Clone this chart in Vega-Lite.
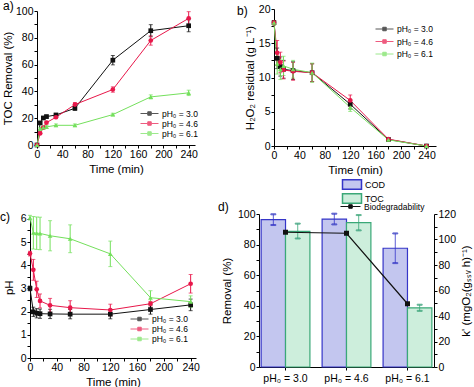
{
  "$schema": "https://vega.github.io/schema/vega-lite/v6.json",
  "padding": 0,
  "autosize": {"type": "pad"},
  "columns": 2,
  "spacing": {"row": 66, "column": 63},
  "bounds": "flush",
  "align": "each",
  "resolve": {
    "scale": {"color": "independent", "fill": "independent", "stroke": "independent", "shape": "independent"},
    "legend": {"color": "independent", "fill": "independent", "stroke": "independent", "shape": "independent"}
  },
  "datasets": {
    "toc": [
      {"t": 0, "ph": "pH₀ = 3.0", "v": 0, "e": 0},
      {"t": 5, "ph": "pH₀ = 3.0", "v": 16.5, "e": 1},
      {"t": 10, "ph": "pH₀ = 3.0", "v": 20.2, "e": 1},
      {"t": 15, "ph": "pH₀ = 3.0", "v": 21.2, "e": 1},
      {"t": 30, "ph": "pH₀ = 3.0", "v": 22.4, "e": 1.2},
      {"t": 60, "ph": "pH₀ = 3.0", "v": 27.4, "e": 1.5},
      {"t": 120, "ph": "pH₀ = 3.0", "v": 63.3, "e": 3.5},
      {"t": 180, "ph": "pH₀ = 3.0", "v": 85.3, "e": 4.5},
      {"t": 240, "ph": "pH₀ = 3.0", "v": 89, "e": 4.5},
      {"t": 0, "ph": "pH₀ = 4.6", "v": 0, "e": 0},
      {"t": 5, "ph": "pH₀ = 4.6", "v": 8.7, "e": 1},
      {"t": 10, "ph": "pH₀ = 4.6", "v": 13, "e": 1},
      {"t": 15, "ph": "pH₀ = 4.6", "v": 16.7, "e": 1},
      {"t": 30, "ph": "pH₀ = 4.6", "v": 20.7, "e": 1},
      {"t": 60, "ph": "pH₀ = 4.6", "v": 30.2, "e": 1.5},
      {"t": 120, "ph": "pH₀ = 4.6", "v": 41.4, "e": 2},
      {"t": 180, "ph": "pH₀ = 4.6", "v": 78, "e": 3.5},
      {"t": 240, "ph": "pH₀ = 4.6", "v": 94.5, "e": 5},
      {"t": 0, "ph": "pH₀ = 6.1", "v": 0, "e": 0},
      {"t": 5, "ph": "pH₀ = 6.1", "v": 12.2, "e": 1},
      {"t": 10, "ph": "pH₀ = 6.1", "v": 13, "e": 1},
      {"t": 15, "ph": "pH₀ = 6.1", "v": 13.5, "e": 1},
      {"t": 30, "ph": "pH₀ = 6.1", "v": 14.7, "e": 1},
      {"t": 60, "ph": "pH₀ = 6.1", "v": 14.7, "e": 1},
      {"t": 120, "ph": "pH₀ = 6.1", "v": 22.7, "e": 1},
      {"t": 180, "ph": "pH₀ = 6.1", "v": 35.9, "e": 1.5},
      {"t": 240, "ph": "pH₀ = 6.1", "v": 38.9, "e": 2}
    ],
    "h2o2": [
      {"t": 0, "ph": "pH₀ = 3.0", "v": 18, "e": 0.3},
      {"t": 5, "ph": "pH₀ = 3.0", "v": 12.8, "e": 1.5},
      {"t": 10, "ph": "pH₀ = 3.0", "v": 11.6, "e": 1.4},
      {"t": 15, "ph": "pH₀ = 3.0", "v": 11.2, "e": 1.3},
      {"t": 30, "ph": "pH₀ = 3.0", "v": 11.0, "e": 1.3},
      {"t": 60, "ph": "pH₀ = 3.0", "v": 10.7, "e": 1.3},
      {"t": 120, "ph": "pH₀ = 3.0", "v": 6.1, "e": 0.7},
      {"t": 180, "ph": "pH₀ = 3.0", "v": 0.95, "e": 0.2},
      {"t": 240, "ph": "pH₀ = 3.0", "v": 0, "e": 0.1},
      {"t": 0, "ph": "pH₀ = 4.6", "v": 18, "e": 0.3},
      {"t": 5, "ph": "pH₀ = 4.6", "v": 13.6, "e": 1.8},
      {"t": 10, "ph": "pH₀ = 4.6", "v": 12.2, "e": 1.5},
      {"t": 15, "ph": "pH₀ = 4.6", "v": 11.1, "e": 1.3},
      {"t": 30, "ph": "pH₀ = 4.6", "v": 10.9, "e": 1.3},
      {"t": 60, "ph": "pH₀ = 4.6", "v": 10.7, "e": 1.3},
      {"t": 120, "ph": "pH₀ = 4.6", "v": 6.65, "e": 0.8},
      {"t": 180, "ph": "pH₀ = 4.6", "v": 1.0, "e": 0.2},
      {"t": 240, "ph": "pH₀ = 4.6", "v": 0, "e": 0.1},
      {"t": 0, "ph": "pH₀ = 6.1", "v": 18, "e": 0.3},
      {"t": 5, "ph": "pH₀ = 6.1", "v": 12.0, "e": 1.5},
      {"t": 10, "ph": "pH₀ = 6.1", "v": 11.2, "e": 1.5},
      {"t": 15, "ph": "pH₀ = 6.1", "v": 11.7, "e": 1.4},
      {"t": 30, "ph": "pH₀ = 6.1", "v": 11.2, "e": 1.3},
      {"t": 60, "ph": "pH₀ = 6.1", "v": 10.7, "e": 1.4},
      {"t": 120, "ph": "pH₀ = 6.1", "v": 5.65, "e": 0.6},
      {"t": 180, "ph": "pH₀ = 6.1", "v": 0.9, "e": 0.2},
      {"t": 240, "ph": "pH₀ = 6.1", "v": 0, "e": 0.1}
    ],
    "phc": [
      {"t": 0, "ph": "pH₀ = 3.0", "v": 3.0, "e": 0.1},
      {"t": 5, "ph": "pH₀ = 3.0", "v": 1.99, "e": 0.2},
      {"t": 10, "ph": "pH₀ = 3.0", "v": 1.93, "e": 0.2},
      {"t": 15, "ph": "pH₀ = 3.0", "v": 1.91, "e": 0.2},
      {"t": 30, "ph": "pH₀ = 3.0", "v": 1.9, "e": 0.2},
      {"t": 60, "ph": "pH₀ = 3.0", "v": 1.89, "e": 0.2},
      {"t": 120, "ph": "pH₀ = 3.0", "v": 1.89, "e": 0.2},
      {"t": 180, "ph": "pH₀ = 3.0", "v": 2.09, "e": 0.2},
      {"t": 240, "ph": "pH₀ = 3.0", "v": 2.29, "e": 0.25},
      {"t": 0, "ph": "pH₀ = 4.6", "v": 4.5, "e": 0.1},
      {"t": 5, "ph": "pH₀ = 4.6", "v": 3.8, "e": 0.45},
      {"t": 10, "ph": "pH₀ = 4.6", "v": 2.96, "e": 0.35},
      {"t": 15, "ph": "pH₀ = 4.6", "v": 2.46, "e": 0.3},
      {"t": 30, "ph": "pH₀ = 4.6", "v": 2.27, "e": 0.3},
      {"t": 60, "ph": "pH₀ = 4.6", "v": 2.17, "e": 0.3},
      {"t": 120, "ph": "pH₀ = 4.6", "v": 2.07, "e": 0.25},
      {"t": 180, "ph": "pH₀ = 4.6", "v": 2.34, "e": 0.1},
      {"t": 240, "ph": "pH₀ = 4.6", "v": 3.2, "e": 0.4},
      {"t": 0, "ph": "pH₀ = 6.1", "v": 6.05, "e": 0.1},
      {"t": 5, "ph": "pH₀ = 6.1", "v": 5.4, "e": 0.7},
      {"t": 10, "ph": "pH₀ = 6.1", "v": 5.38, "e": 0.7},
      {"t": 15, "ph": "pH₀ = 6.1", "v": 5.37, "e": 0.7},
      {"t": 30, "ph": "pH₀ = 6.1", "v": 5.27, "e": 0.65},
      {"t": 60, "ph": "pH₀ = 6.1", "v": 5.14, "e": 0.6},
      {"t": 120, "ph": "pH₀ = 6.1", "v": 4.49, "e": 0.55},
      {"t": 180, "ph": "pH₀ = 6.1", "v": 2.6, "e": 0.3},
      {"t": 240, "ph": "pH₀ = 6.1", "v": 2.43, "e": 0.25}
    ],
    "bars": [
      {"ph": "pH₀ = 3.0", "m": "COD", "v": 96.3, "lo": 92.8, "hi": 99.8},
      {"ph": "pH₀ = 3.0", "m": "TOC", "v": 88.7, "lo": 84.0, "hi": 93.7},
      {"ph": "pH₀ = 4.6", "m": "COD", "v": 96.7, "lo": 93.2, "hi": 100.2},
      {"ph": "pH₀ = 4.6", "m": "TOC", "v": 94.3, "lo": 89.3, "hi": 99.3},
      {"ph": "pH₀ = 6.1", "m": "COD", "v": 77.6, "lo": 67.9, "hi": 87.3},
      {"ph": "pH₀ = 6.1", "m": "TOC", "v": 38.7, "lo": 36.7, "hi": 40.7}
    ],
    "bio": [
      {"ph": "pH₀ = 3.0", "k": 105.7},
      {"ph": "pH₀ = 4.6", "k": 104.9},
      {"ph": "pH₀ = 6.1", "k": 49.6}
    ]
  },
  "concat": [
    {
      "width": 165,
      "height": 139,
      "title": {"text": "a)", "anchor": "start", "frame": "group", "offset": 0, "dx": -27, "dy": 16, "baseline": "alphabetic"},
      "data": {"name": "toc"},
      "encoding": {
        "x": {"field": "t", "type": "quantitative", "scale": {"domain": [0, 250], "range": [7, 165]},
              "axis": {"values": [0, 20, 40, 60, 80, 100, 120, 140, 160, 180, 200, 220, 240], "labelExpr": "datum.value % 40 === 0 ? datum.label : ''", "title": "Time (min)", "offset": -3, "labelFlush": false, "labelOverlap": false}},
        "y": {"field": "v", "type": "quantitative", "scale": {"domain": [0, 100], "range": [136, 2]},
              "axis": {"values": [0, 10, 20, 30, 40, 50, 60, 70, 80, 90, 100], "labelExpr": "datum.value % 20 === 0 ? datum.label : ''", "title": "TOC Removal (%)", "offset": -7, "labelOverlap": false, "titlePadding": 2}},
        "color": {"field": "ph", "type": "nominal", "scale": {"domain": ["pH₀ = 3.0", "pH₀ = 4.6", "pH₀ = 6.1"], "range": ["#111111", "#e8174a", "#74e05c"]},
                  "legend": {"title": null, "orient": "none", "legendX": 114, "legendY": 99, "symbolType": "M-1.8,0H-0.35M0.35,0H1.8M-0.35,-0.35H0.35V0.35H-0.35Z", "symbolSize": 100, "symbolStrokeWidth": 1, "labelFontSize": 8.5, "rowPadding": -2, "labelOffset": 7}}
      },
      "layer": [
        {"mark": {"type": "line", "strokeWidth": 1}},
        {"mark": {"type": "errorbar", "ticks": true, "size": 4, "thickness": 1}, "encoding": {"yError": {"field": "e"}}},
        {"mark": {"type": "point", "filled": true, "size": 22, "opacity": 1}, "encoding": {"shape": {"field": "ph", "type": "nominal", "scale": {"range": ["square", "circle", "triangle-up"]}, "legend": null}}}
      ]
    },
    {
      "width": 177,
      "height": 139,
      "title": {"text": "b)", "anchor": "start", "frame": "group", "offset": 0, "dx": -22, "dy": 23, "baseline": "alphabetic"},
      "data": {"name": "h2o2"},
      "encoding": {
        "x": {"field": "t", "type": "quantitative", "scale": {"domain": [0, 255], "range": [15, 177]},
              "axis": {"values": [0, 20, 40, 60, 80, 100, 120, 140, 160, 180, 200, 220, 240], "labelExpr": "datum.value % 40 === 0 ? datum.label : ''", "title": "Time (min)", "offset": -2, "labelFlush": false, "labelOverlap": false}},
        "y": {"field": "v", "type": "quantitative", "scale": {"domain": [0, 20], "range": [137, 0]},
              "axis": {"values": [0, 2.5, 5, 7.5, 10, 12.5, 15, 17.5, 20], "labelExpr": "datum.value % 5 === 0 ? datum.label : ''", "format": ".0f", "title": "H₂O₂ residual (g L⁻¹)", "offset": -15, "labelOverlap": false, "titlePadding": 3}},
        "color": {"field": "ph", "type": "nominal", "scale": {"domain": ["pH₀ = 3.0", "pH₀ = 4.6", "pH₀ = 6.1"], "range": ["#111111", "#e8174a", "#74e05c"]},
                  "legend": {"title": null, "orient": "none", "legendX": 120, "legendY": 14.5, "symbolType": "M-1.8,0H-0.35M0.35,0H1.8M-0.35,-0.35H0.35V0.35H-0.35Z", "symbolSize": 100, "symbolStrokeWidth": 1, "labelFontSize": 8.5, "rowPadding": 2.5, "labelOffset": 7}}
      },
      "layer": [
        {"mark": {"type": "line", "strokeWidth": 1}},
        {"mark": {"type": "errorbar", "ticks": true, "size": 4, "thickness": 1}, "encoding": {"yError": {"field": "e"}}},
        {"mark": {"type": "point", "filled": true, "size": 22, "opacity": 1}, "encoding": {"shape": {"field": "ph", "type": "nominal", "scale": {"range": ["square", "circle", "triangle-up"]}, "legend": null}}}
      ]
    },
    {
      "width": 166,
      "height": 153,
      "title": {"text": "c)", "anchor": "start", "frame": "group", "offset": 0, "dx": -30, "dy": 19, "baseline": "alphabetic"},
      "data": {"name": "phc"},
      "encoding": {
        "x": {"field": "t", "type": "quantitative", "scale": {"domain": [0, 248]},
              "axis": {"values": [0, 20, 40, 60, 80, 100, 120, 140, 160, 180, 200, 220, 240], "labelExpr": "datum.value % 40 === 0 ? datum.label : ''", "title": "Time (min)", "offset": -9, "labelFlush": false, "labelOverlap": false}},
        "y": {"field": "v", "type": "quantitative", "scale": {"domain": [0, 6.1], "range": [144, 2.5]},
              "axis": {"values": [0, 0.5, 1, 1.5, 2, 2.5, 3, 3.5, 4, 4.5, 5, 5.5, 6], "labelExpr": "datum.value % 1 === 0 ? datum.label : ''", "format": ".0f", "title": "pH", "labelOverlap": false, "titlePadding": 6}},
        "color": {"field": "ph", "type": "nominal", "scale": {"domain": ["pH₀ = 3.0", "pH₀ = 4.6", "pH₀ = 6.1"], "range": ["#111111", "#e8174a", "#74e05c"]},
                  "legend": {"title": null, "orient": "none", "legendX": 104, "legendY": 99.5, "symbolType": "M-1.8,0H-0.35M0.35,0H1.8M-0.35,-0.35H0.35V0.35H-0.35Z", "symbolSize": 100, "symbolStrokeWidth": 1, "labelFontSize": 8.5, "rowPadding": 0, "labelOffset": 7}}
      },
      "layer": [
        {"mark": {"type": "line", "strokeWidth": 1}},
        {"mark": {"type": "errorbar", "ticks": true, "size": 4, "thickness": 1}, "encoding": {"yError": {"field": "e"}}},
        {"mark": {"type": "point", "filled": true, "size": 22, "opacity": 1}, "encoding": {"shape": {"field": "ph", "type": "nominal", "scale": {"range": ["square", "circle", "triangle-up"]}, "legend": null}}}
      ]
    },
    {
      "width": 175,
      "height": 153,
      "title": {"text": "d)", "anchor": "start", "frame": "group", "offset": 0, "dx": -41, "dy": 44.5, "baseline": "alphabetic"},
      "layer": [
        {
          "data": {"name": "bars"},
          "encoding": {
            "x": {"field": "ph", "type": "nominal", "scale": {"paddingInner": 0.2, "paddingOuter": 0.035}, "axis": {"title": null, "labelAngle": 0, "labelPadding": 3}},
            "xOffset": {"field": "m", "type": "nominal", "scale": {"padding": 0}},
            "y": {"field": "v", "type": "quantitative", "scale": {"domain": [0, 100]}, "axis": {"values": [0, 10, 20, 30, 40, 50, 60, 70, 80, 90, 100], "labelExpr": "datum.value % 20 === 0 ? datum.label : ''", "title": "Removal (%)", "labelOverlap": false, "titlePadding": 5}}
          },
          "layer": [
            {"mark": {"type": "bar", "strokeWidth": 1.2},
             "encoding": {
               "fill": {"field": "m", "type": "nominal", "scale": {"domain": ["COD", "TOC"], "range": ["#c3c6ef", "#cdeedc"]}, "legend": {"title": null, "orient": "none", "legendX": 87, "legendY": -35.5, "symbolType": "M-1.9,-0.95H1.9V0.95H-1.9Z", "symbolSize": 100, "labelFontSize": 9, "rowPadding": -3, "labelOffset": 7}},
               "stroke": {"field": "m", "type": "nominal", "scale": {"domain": ["COD", "TOC"], "range": ["#3535c8", "#3aa877"]}, "legend": {"title": null, "orient": "none", "legendX": 87, "legendY": -35.5, "symbolType": "M-1.9,-0.95H1.9V0.95H-1.9Z", "symbolSize": 100, "labelFontSize": 9, "rowPadding": -3, "labelOffset": 7}}
             }},
            {"mark": {"type": "rule", "strokeWidth": 1, "opacity": 0.8},
             "encoding": {"y": {"field": "lo", "type": "quantitative"}, "y2": {"field": "hi"}, "stroke": {"field": "m", "type": "nominal", "legend": null}}},
            {"mark": {"type": "tick", "thickness": 1, "size": 5, "opacity": 0.8},
             "encoding": {"y": {"field": "lo", "type": "quantitative"}, "stroke": {"field": "m", "type": "nominal", "legend": null}}},
            {"mark": {"type": "tick", "thickness": 1, "size": 5, "opacity": 0.8},
             "encoding": {"y": {"field": "hi", "type": "quantitative"}, "stroke": {"field": "m", "type": "nominal", "legend": null}}}
          ]
        },
        {
          "data": {"name": "bio"},
          "encoding": {
            "x": {"field": "ph", "type": "nominal"},
            "y": {"field": "k", "type": "quantitative", "scale": {"domain": [0, 120]}, "axis": {"orient": "right", "values": [0, 10, 20, 30, 40, 50, 60, 70, 80, 90, 100, 110, 120], "labelExpr": "datum.value % 20 === 0 ? datum.label : ''", "title": "k' (mgO₂(gₛₛᵥ h)⁻¹)", "titleAngle": 270, "labelOverlap": false, "titlePadding": 16}},
            "color": {"datum": "Biodegradability", "type": "nominal", "scale": {"range": ["#111111"]}, "legend": {"title": null, "orient": "none", "legendX": 86, "legendY": -13, "symbolType": "M-2,0H-0.35M0.35,0H2M-0.35,-0.35H0.35V0.35H-0.35Z", "symbolSize": 100, "symbolStrokeWidth": 1, "labelFontSize": 8.5, "labelOffset": 8}}
          },
          "layer": [
            {"mark": {"type": "line", "strokeWidth": 1.2}},
            {"mark": {"type": "point", "shape": "square", "filled": true, "size": 25, "opacity": 1}}
          ]
        }
      ],
      "resolve": {"scale": {"y": "independent"}}
    }
  ],
  "config": {
    "font": "Liberation Sans",
    "view": {"stroke": null},
    "axis": {"domainColor": "#000000", "tickColor": "#000000", "labelColor": "#000000", "titleColor": "#000000", "labelFontSize": 10.5, "titleFontSize": 11.5, "titleFontWeight": "normal", "tickSize": 3, "grid": false, "labelPadding": 1, "labelFont": "Liberation Sans", "titleFont": "Liberation Sans"},
    "legend": {"labelFont": "Liberation Sans", "labelColor": "#000000"},
    "title": {"font": "Liberation Sans", "fontSize": 12, "fontWeight": "normal", "color": "#000000"}
  }
}
